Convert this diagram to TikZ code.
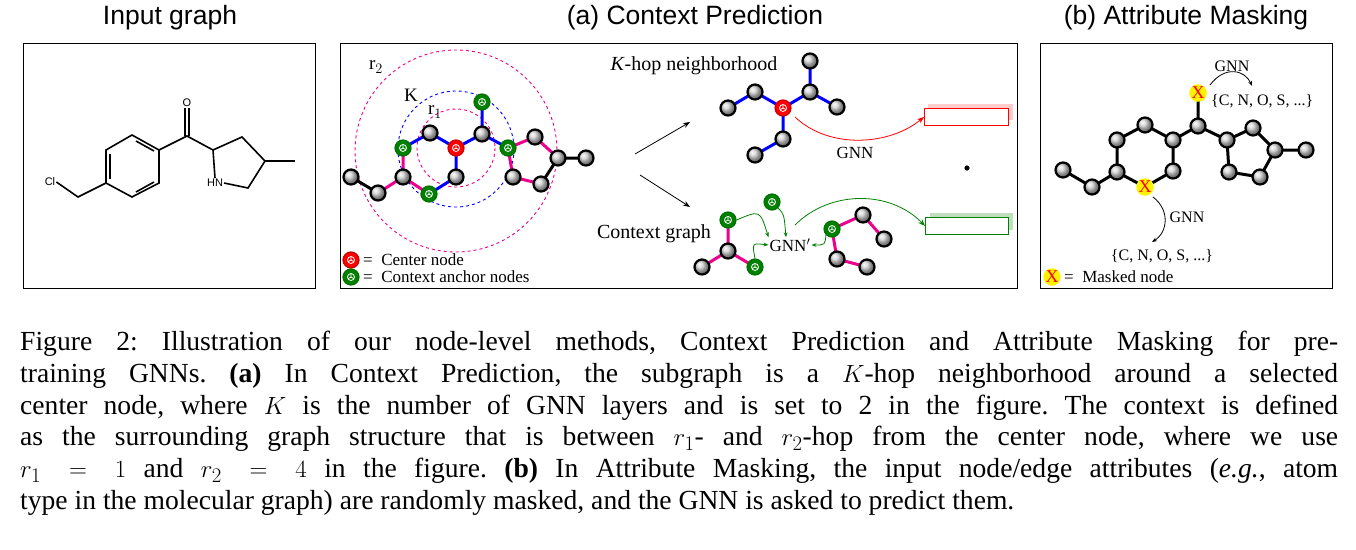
\documentclass[tikz,border=0pt]{standalone}
\usepackage{fontspec}
\setmainfont{Liberation Serif}
\newfontfamily\hsans{Liberation Sans}
\usetikzlibrary{arrows.meta,shadings}
\begin{document}
\begin{tikzpicture}[x=1pt,y=-1pt,
  ball/.style={circle,draw=black,line width=2.2pt,shading=ball,ball color=white!65!gray,minimum size=15pt,inner sep=0pt},
  anch/.style={circle,draw=green!45!black,line width=1.2pt,fill=green!50!black,minimum size=16pt,inner sep=0pt,
     path picture={\draw[white,line width=0.8pt] (path picture bounding box.center) circle (3.5pt);
       \draw[white,line width=0.8pt] (path picture bounding box.center) -- ++(90:3.5pt)
         (path picture bounding box.center) -- ++(210:3.5pt) (path picture bounding box.center) -- ++(330:3.5pt);}},
  cen/.style={anch,draw=red!80!black,fill=red},
  mask/.style={circle,fill=yellow,minimum size=17pt,inner sep=0pt,text=red,font=\fontsize{18}{18}\selectfont},
  be/.style={line width=3pt,blue},
  me/.style={line width=3pt,magenta},
  ke/.style={line width=3pt,black},
  mol/.style={line width=1.6pt,black},
  title/.style={font=\hsans\fontsize{26.5}{26.5}\selectfont},
  lbl/.style={font=\fontsize{17}{17}\selectfont,inner sep=1pt},
  frame/.style={draw=black,line width=1pt},
  arr/.style={-{Stealth[length=7pt]},line width=0.8pt}
]
\useasboundingbox (0,0) rectangle (1356,549);
% titles
\node[title] (t0) at (170,18) {Input graph};
\node[title] (t1) at (695,18) {(a) Context Prediction};
\node[title] (t2) at (1186,18) {(b) Attribute Masking};
% frames
\draw[frame] (23,43) rectangle (315,288);
\draw[frame] (340,43) rectangle (1017,288);
\draw[frame] (1040,43) rectangle (1332,288);
% ---------- input molecule
\node[font=\hsans\fontsize{11}{11}\selectfont,inner sep=1pt] (cl) at (50,182) {Cl};
\coordinate (ch) at (78,197);
\coordinate (b1) at (106,183); \coordinate (b2) at (106,150); \coordinate (b3) at (132,135);
\coordinate (b4) at (159,150); \coordinate (b5) at (159,183); \coordinate (b6) at (132,197);
\coordinate (co) at (187,136);
\node[font=\hsans\fontsize{11}{11}\selectfont,inner sep=1pt] (ox) at (187,103) {O};
\coordinate (p2) at (213,150); \coordinate (p3) at (242,137); \coordinate (p4) at (265,161);
\coordinate (p5) at (248,188);
\node[font=\hsans\fontsize{11}{11}\selectfont,inner sep=1pt] (hn) at (215,183) {HN};
\coordinate (me) at (295,161);
\draw[mol] (cl.east) -- (ch) -- (b1);
\draw[mol] (b1) -- (b2) -- (b3) -- (b4) -- (b5) -- (b6) -- cycle;
\draw[mol] (b4) -- (co) -- (p2) -- (p3) -- (p4) -- (p5) -- (hn.east);
\draw[mol] (hn.north) -- (p2);
\draw[mol] (p4) -- (me);
\draw[mol] ([xshift=-2.2pt]co) -- ([xshift=-2.2pt]ox.south);
\draw[mol] ([xshift=2.2pt]co) -- ([xshift=2.2pt]ox.south);
% inner benzene lines
\draw[mol] (110,154) -- (110,179);
\draw[mol] (136,141) -- (154,151);
\draw[mol] (154,182) -- (136,192);
% ---------- panel (a) left graph
\draw[magenta,dashed,line width=0.9pt] (456,151) circle (101);
\draw[blue,dashed,line width=0.9pt] (456,149) circle (58);
\draw[magenta,dashed,line width=0.9pt] (456,148) circle (39);
\node[lbl,font=\fontsize{19}{19}\selectfont] (lr2) at (376,67) {r$_2$};
\node[lbl,font=\fontsize{19}{19}\selectfont] (lk) at (411,95) {K};
\node[lbl,font=\fontsize{19}{19}\selectfont] (lr1) at (435,112) {r$_1$};
\coordinate (R0) at (456,148);
\coordinate (a0) at (430,133); \coordinate (bb0) at (403,148); \coordinate (c0) at (403,177);
\coordinate (d0) at (429,194); \coordinate (e0) at (456,177); \coordinate (f0) at (482,134);
\coordinate (g0) at (482,102); \coordinate (h0) at (508,148); \coordinate (i0) at (535,137);
\coordinate (j0) at (558,158); \coordinate (k0) at (586,158); \coordinate (l0) at (541,184);
\coordinate (m0) at (513,177); \coordinate (n0) at (378,193); \coordinate (o0) at (351,177);
\draw[be] (R0)--(a0)--(bb0) (R0)--(f0)--(g0) (f0)--(h0) (R0)--(e0)--(d0);
\draw[me] (bb0)--(c0)--(d0) (h0)--(i0)--(j0) (l0)--(m0)--(h0) (c0)--(n0);
\draw[ke] (n0)--(o0) (j0)--(k0) (j0)--(l0);
\node[cen] (R) at (R0) {};
\foreach \p in {a0,c0,e0,f0,i0,j0,k0,l0,m0,n0,o0} \node[ball] at (\p) {};
\foreach \p in {bb0,d0,g0,h0} \node[anch] at (\p) {};
% legend
\node[cen] (lg1) at (351,260) {};
\node[lbl,anchor=west] (lt1) at (362,260) {=\ \ Center node};
\node[anch] (lg2) at (351,277) {};
\node[lbl,anchor=west] (lt2) at (362,277) {=\ \ Context anchor nodes};
% arrows
\coordinate (s1) at (635,154); \coordinate (e1) at (690,122);
\coordinate (s2) at (640,175); \coordinate (e2) at (690,207);
\draw[arr] (s1) -- (e1);
\draw[arr] (s2) -- (e2);
% K-hop neighborhood
\node[lbl,font=\fontsize{20}{20}\selectfont] (kh) at (694,66) {\textit{K}-hop neighborhood};
\coordinate (kR) at (783,108);
\coordinate (kp1) at (755,92); \coordinate (kp2) at (728,108); \coordinate (kq1) at (810,92);
\coordinate (kq2) at (810,61); \coordinate (kq3) at (837,107); \coordinate (ks1) at (783,139);
\coordinate (ks2) at (755,155);
\draw[be] (kR)--(kp1)--(kp2) (kR)--(kq1)--(kq2) (kq1)--(kq3) (kR)--(ks1)--(ks2);
\node[cen] at (kR) {};
\foreach \p in {kp1,kp2,kq1,kq2,kq3,ks1,ks2} \node[ball] at (\p) {};
% boxes
\fill[red!20] (928,104) rectangle (1013,120);
\node[draw=red,line width=0.9pt,fill=white,minimum width=84pt,minimum height=17pt,inner sep=0pt,anchor=north west] (rb) at (924,108) {};
\fill[green!50!black!25] (930,213) rectangle (1013,230);
\node[draw=green!50!black,line width=0.9pt,fill=white,minimum width=83pt,minimum height=17pt,inner sep=0pt,anchor=north west] (gb) at (925,217) {};
\fill (967,168) circle (2.6pt);
\coordinate (ra) at (795,117);
\draw[arr,red] (ra) .. controls (830,150) and (890,145) .. (rb.west);
\node[lbl] (gnn1) at (855,153) {GNN};
% context graph
\node[lbl,font=\fontsize{20}{20}\selectfont] (cgl) at (654,234) {Context graph};
\coordinate (cg1) at (728,220); \coordinate (cg2) at (728,251); \coordinate (cg3) at (702,267);
\coordinate (cg4) at (755,267); \coordinate (cg5) at (772,202);
\coordinate (rg1) at (832,229); \coordinate (rg2) at (863,215); \coordinate (rg3) at (884,239);
\coordinate (rg4) at (837,259); \coordinate (rg5) at (867,267);
\draw[me] (cg1)--(cg2)--(cg3) (cg2)--(cg4) (rg1)--(rg2)--(rg3) (rg1)--(rg4)--(rg5);
\foreach \p in {cg2,cg3,rg2,rg3,rg4,rg5} \node[ball] at (\p) {};
\foreach \p in {cg1,cg4,cg5,rg1} \node[anch] (n\p) at (\p) {};
\node[lbl] (gnn2) at (790,245) {GNN$'$};
\draw[arr,green!50!black,-{Stealth[length=5pt]}] (ncg1.east) .. controls (760,210) .. (gnn2.north west);
\draw[arr,green!50!black,-{Stealth[length=5pt]}] (ncg5.south east) .. controls (784,214) .. ([xshift=-4pt]gnn2.north);
\draw[arr,green!50!black,-{Stealth[length=5pt]}] (ncg4.north) .. controls (752,243) .. (gnn2.west);
\draw[arr,green!50!black,-{Stealth[length=5pt]}] (nrg1.south west) .. controls (825,245) .. (gnn2.east);
\coordinate (ga) at (795,225);
\draw[arr,green!50!black] (ga) .. controls (830,190) and (890,190) .. (gb.west);
% ---------- panel (b)
\coordinate (x1) at (1198,93); \coordinate (t0b) at (1198,126);
\coordinate (u1) at (1145,125); \coordinate (u2) at (1117,140); \coordinate (u3) at (1117,172);
\coordinate (x2) at (1145,187); \coordinate (u5) at (1173,171); \coordinate (u6) at (1173,140);
\coordinate (v1) at (1092,187); \coordinate (v2) at (1063,170);
\coordinate (w1) at (1227,140); \coordinate (w2) at (1253,128); \coordinate (w3) at (1275,150);
\coordinate (w4) at (1260,177); \coordinate (w5) at (1229,172); \coordinate (w6) at (1306,150);
\draw[ke] (x1)--(t0b)--(u6) (t0b)--(w1) (u1)--(u2)--(u3)--(x2)--(u5)--(u6)--(u1) (u3)--(v1)--(v2)
  (w1)--(w2)--(w3)--(w4)--(w5)--(w1) (w3)--(w6);
\foreach \p in {t0b,u1,u2,u3,u5,u6,v1,v2,w1,w2,w3,w4,w5,w6} \node[ball] at (\p) {};
\node[mask] (X1) at (x1) {X};
\node[mask] (X2) at (x2) {X};
\node[lbl,font=\fontsize{16}{16}\selectfont] (gb1) at (1232,66) {GNN};
\node[lbl,anchor=west,font=\fontsize{16}{16}\selectfont] (set1) at (1210,101) {\{C, N, O, S, ...\}};
\draw[arr,-{Stealth[length=5pt]}] (1210,85) .. controls (1225,65) and (1245,70) .. (1252,86);
\draw[arr,-{Stealth[length=5pt]}] (1153,197) .. controls (1170,210) and (1168,232) .. (1152,242);
\node[lbl,font=\fontsize{16}{16}\selectfont] (gb2) at (1187,217) {GNN};
\node[lbl,font=\fontsize{16}{16}\selectfont] (set2) at (1162,256) {\{C, N, O, S, ...\}};
\node[mask] (lgx) at (1052,277) {X};
\node[lbl,anchor=west] (lgt) at (1063,277) {=\ \ Masked node};
% ---------- caption
\node[anchor=north west,text width=1318pt,align=justify,inner sep=0pt,font=\frenchspacing\fontsize{27.6}{31.7}\selectfont] (cap) at (20,331)
{Figure 2: Illustration of our node-level methods, Context Prediction and Attribute Masking for pre-\linebreak
training GNNs. \textbf{(a)} In Context Prediction, the subgraph is a $K$-hop neighborhood around a selected\linebreak
center node, where $K$ is the number of GNN layers and is set to 2 in the figure. The context is defined\linebreak
as the surrounding graph structure that is between $r_1$- and $r_2$-hop from the center node, where we use\linebreak
$r_1=1$ and $r_2=4$ in the figure. \textbf{(b)} In Attribute Masking, the input node/edge attributes (\textit{e.g.}, atom\linebreak
type in the molecular graph) are randomly masked, and the GNN is asked to predict them.};
\end{tikzpicture}
\end{document}
